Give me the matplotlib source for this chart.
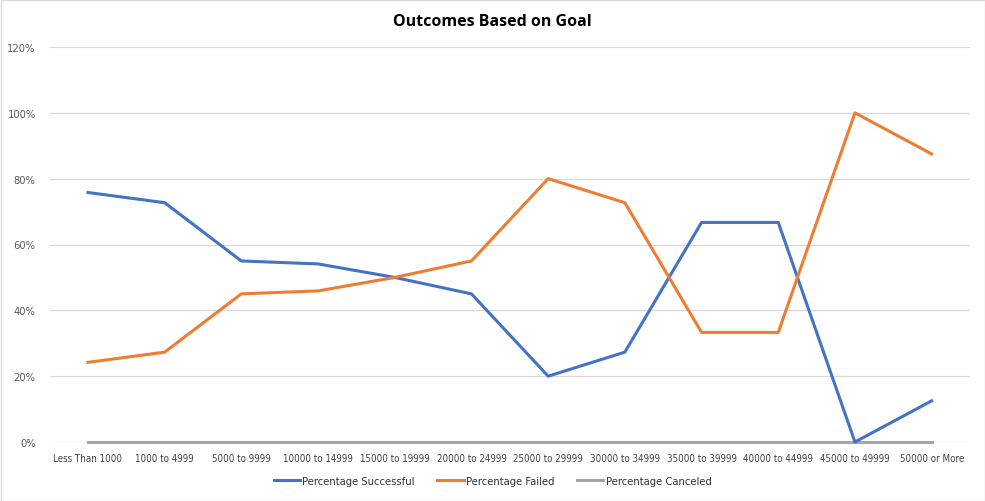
import matplotlib.pyplot as plt
from matplotlib import font_manager
from matplotlib.patches import Rectangle
from matplotlib.ticker import PercentFormatter

categories = ["Less Than 1000", "1000 to 4999", "5000 to 9999", "10000 to 14999",
              "15000 to 19999", "20000 to 24999", "25000 to 29999", "30000 to 34999",
              "35000 to 39999", "40000 to 44999", "45000 to 49999", "50000 or More"]
pct_successful = [75.8, 72.7, 55.0, 54.1, 50.0, 45.0, 20.0, 27.3, 66.7, 66.7, 0.0, 12.5]
pct_failed = [24.2, 27.3, 45.0, 45.9, 50.0, 55.0, 80.0, 72.7, 33.3, 33.3, 100.0, 87.5]
pct_canceled = [0, 0, 0, 0, 0, 0, 0, 0, 0, 0, 0, 0]

# Excel uses Calibri; look for a narrow font that comes close
narrow = None
for f in font_manager.fontManager.ttflist:
    if f.style != "normal" or f.weight not in (400, "normal", "regular"):
        continue
    if "Narrow" in f.name or f.stretch in ("condensed", "semi-condensed"):
        narrow = f
        break

if narrow is not None:
    plt.rcParams["font.family"] = [narrow.name, "DejaVu Sans"]
    plt.rcParams["font.stretch"] = narrow.stretch
    xsize, ysize, lsize = 7, 8, 8
else:
    plt.rcParams["font.family"] = ["Roboto", "DejaVu Sans"]
    xsize, ysize, lsize = 6, 7.5, 7.5
text_color = "#595959"

W, H = 985, 502
fig = plt.figure(figsize=(W / 100, H / 100), dpi=100)
ax = fig.add_axes([49.6 / W, (H - 443) / H, (970 - 49.6) / W, (443 - 48) / H])

x = list(range(len(categories)))
ax.plot(x, pct_successful, color="#4472C4", lw=2.2, label="Percentage Successful",
        zorder=3, clip_on=False)
ax.plot(x, pct_failed, color="#ED7D31", lw=2.2, label="Percentage Failed",
        zorder=3, clip_on=False)
ax.plot(x, pct_canceled, color="#A5A5A5", lw=2.2, label="Percentage Canceled",
        zorder=2, clip_on=False)

ax.set_xlim(-0.5, len(categories) - 0.5)
ax.set_ylim(0, 120)
ax.set_yticks(range(0, 121, 20))
ax.yaxis.set_major_formatter(PercentFormatter(decimals=0))
ax.set_xticks(x)
ax.set_xticklabels(categories)
ax.grid(axis="y", color="#D9D9D9", lw=0.9, zorder=0)
for s in ax.spines.values():
    s.set_visible(False)
ax.tick_params(axis="both", length=0, colors=text_color)
ax.tick_params(axis="x", labelsize=xsize, pad=8, labelcolor="#404040")
ax.tick_params(axis="y", labelsize=ysize, pad=10)

fig.text(0.5, (H - 22) / H, "Outcomes Based on Goal", ha="center", va="center",
         fontsize=11.5, fontweight="bold", color="black", family=["Open Sans", "DejaVu Sans"],
         stretch="normal")

fig.legend(loc="center", bbox_to_anchor=(0.5, (H - 482) / H), ncol=3, frameon=False,
           fontsize=lsize, labelcolor="#303030", handlelength=2.4, handletextpad=0.2,
           columnspacing=2.0)

fig.patches.append(Rectangle((0.5 / W, 0.5 / H), (W - 1) / W, (H - 1) / H,
                             transform=fig.transFigure, fill=False, ec="#D9D9D9", lw=1))

fig.savefig("out.png", dpi=100)
